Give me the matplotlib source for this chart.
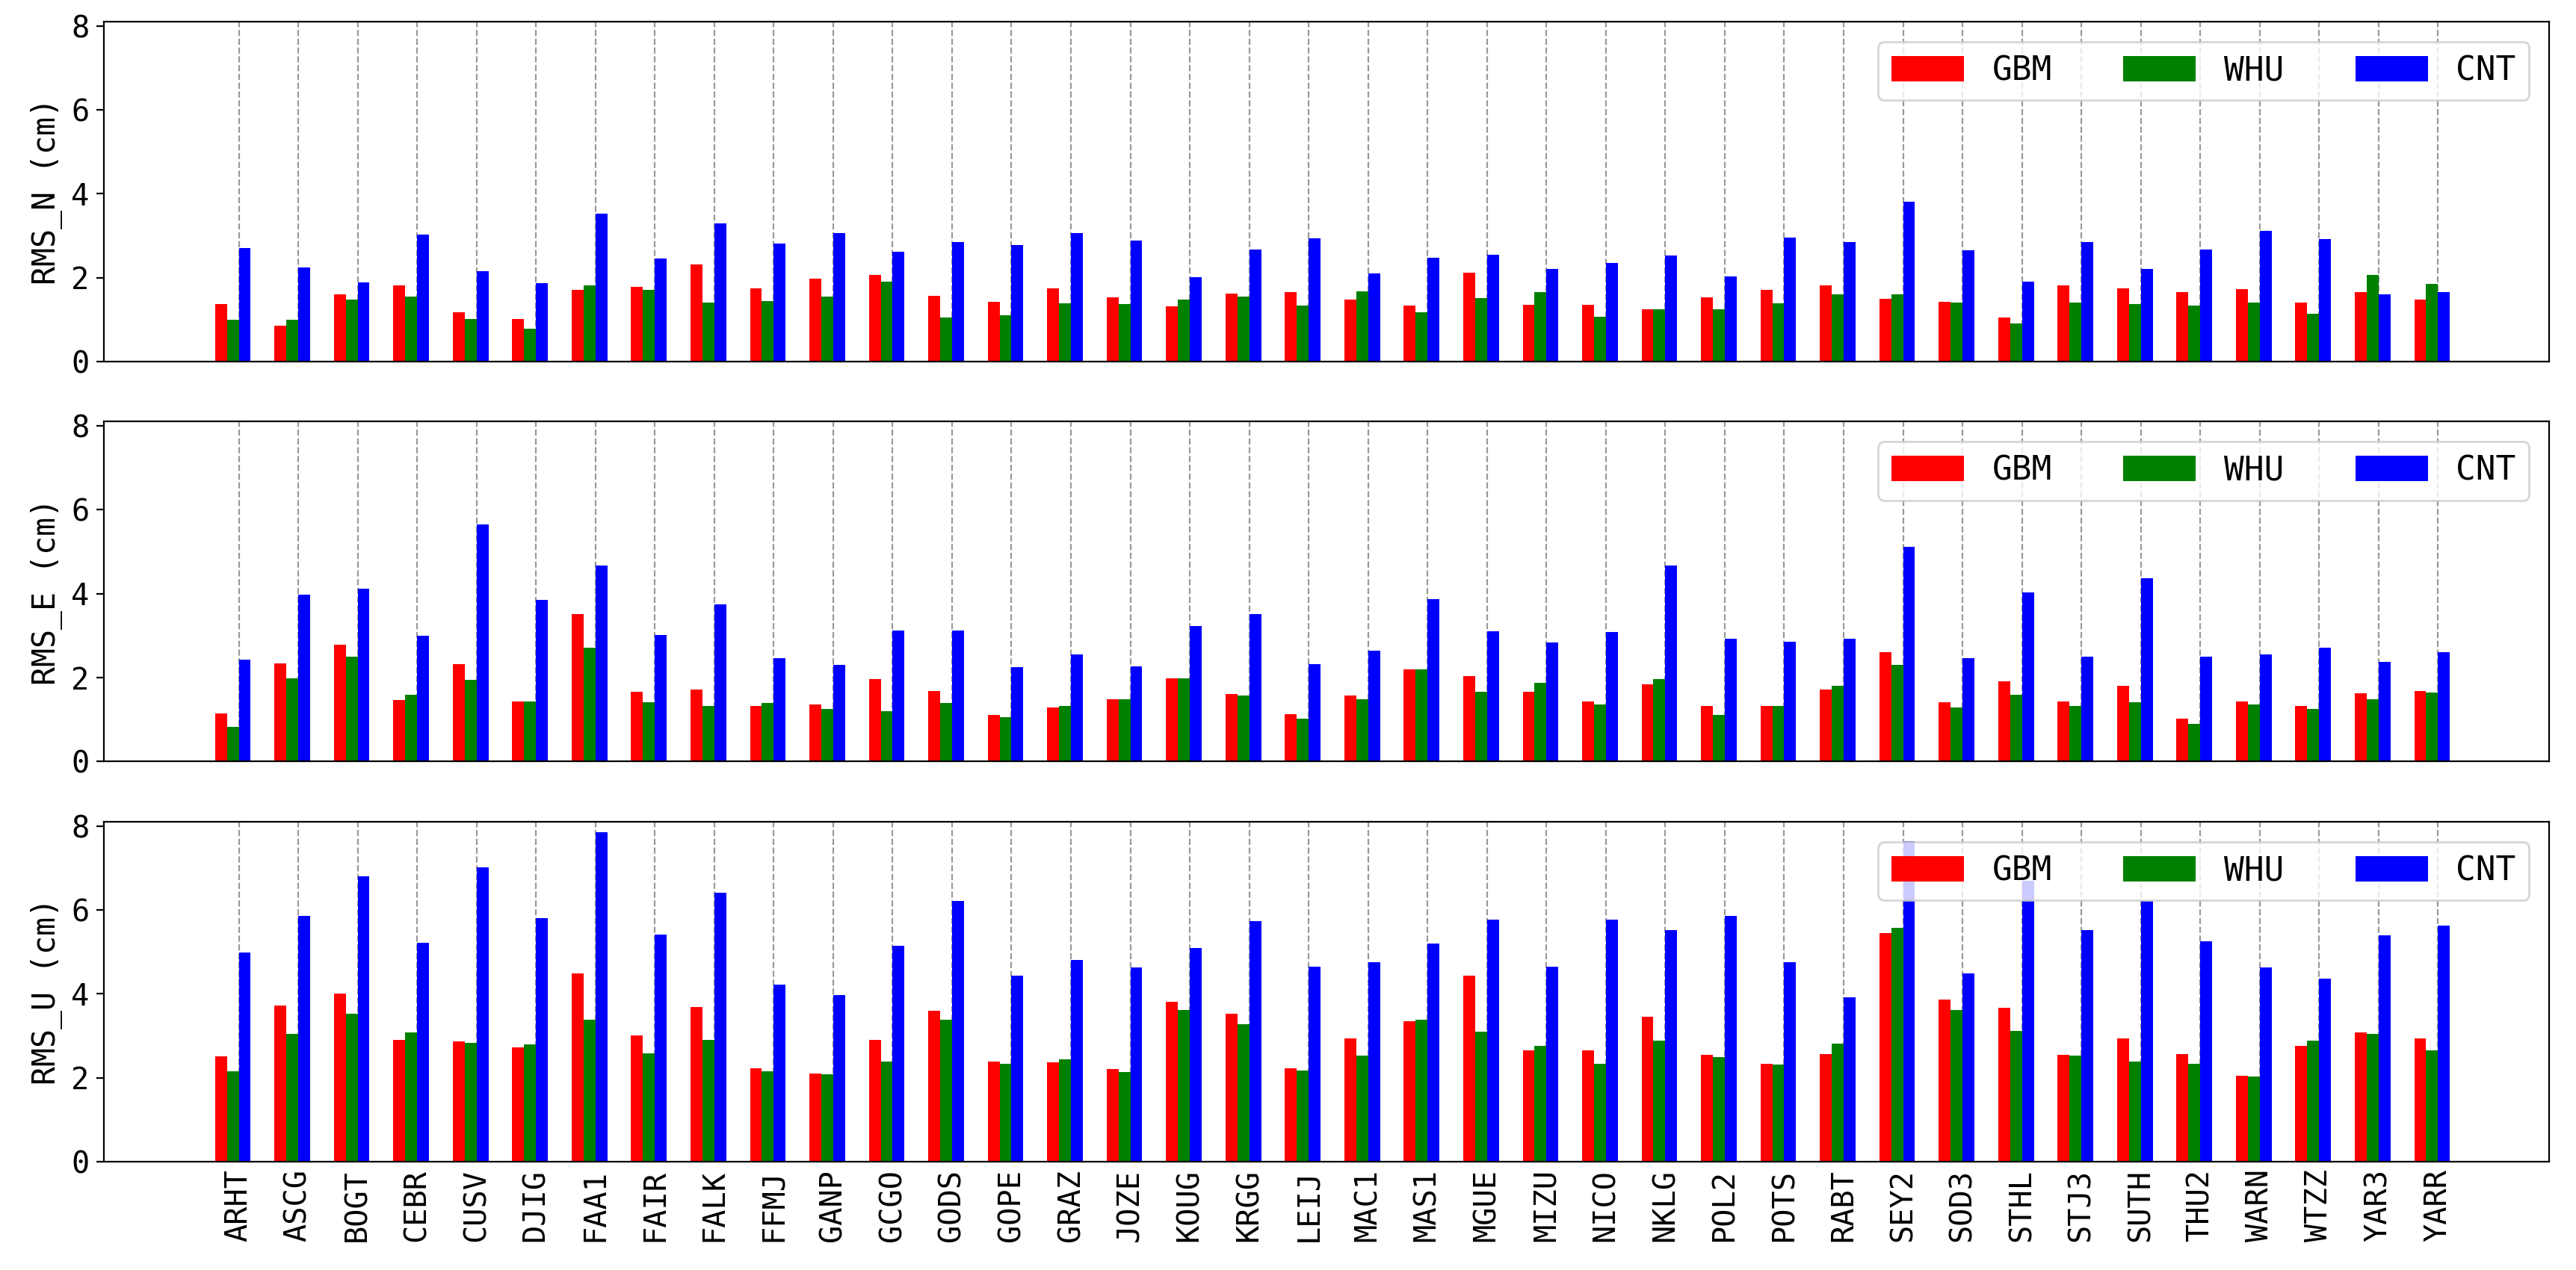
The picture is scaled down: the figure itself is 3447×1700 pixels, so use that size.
import numpy as np
import matplotlib
matplotlib.use('Agg')
import matplotlib.pyplot as plt

plt.rcParams['font.family'] = ['DejaVu Sans Mono']

STATIONS = ['ARHT', 'ASCG', 'BOGT', 'CEBR', 'CUSV', 'DJIG', 'FAA1', 'FAIR', 'FALK', 'FFMJ',
            'GANP', 'GCGO', 'GODS', 'GOPE', 'GRAZ', 'JOZE', 'KOUG', 'KRGG', 'LEIJ', 'MAC1',
            'MAS1', 'MGUE', 'MIZU', 'NICO', 'NKLG', 'POL2', 'POTS', 'RABT', 'SEY2', 'SOD3',
            'STHL', 'STJ3', 'SUTH', 'THU2', 'WARN', 'WTZZ', 'YAR3', 'YARR']

# RMS (cm) per station
GBM_N = [1.37, 0.86, 1.60, 1.81, 1.17, 1.02, 1.71, 1.78, 2.32, 1.75, 1.97, 2.07, 1.57,
         1.42, 1.75, 1.53, 1.32, 1.61, 1.65, 1.47, 1.34, 2.11, 1.35, 1.36, 1.24, 1.53,
         1.70, 1.81, 1.50, 1.42, 1.04, 1.82, 1.74, 1.65, 1.72, 1.41, 1.65, 1.47]
WHU_N = [0.99, 0.99, 1.48, 1.55, 1.02, 0.78, 1.81, 1.71, 1.41, 1.44, 1.55, 1.91, 1.05,
         1.11, 1.39, 1.37, 1.47, 1.54, 1.34, 1.68, 1.17, 1.52, 1.65, 1.06, 1.25, 1.24,
         1.39, 1.60, 1.60, 1.40, 0.90, 1.41, 1.37, 1.33, 1.41, 1.14, 2.06, 1.85]
CNT_N = [2.71, 2.25, 1.88, 3.02, 2.15, 1.86, 3.53, 2.46, 3.30, 2.81, 3.06, 2.61, 2.84,
         2.78, 3.06, 2.88, 2.01, 2.66, 2.94, 2.10, 2.47, 2.55, 2.20, 2.35, 2.52, 2.03,
         2.95, 2.84, 3.80, 2.65, 1.90, 2.85, 2.21, 2.67, 3.12, 2.91, 1.60, 1.65]

GBM_E = [1.15, 2.34, 2.79, 1.47, 2.33, 1.44, 3.51, 1.67, 1.72, 1.33, 1.36, 1.96, 1.69,
         1.12, 1.29, 1.49, 1.98, 1.61, 1.13, 1.57, 2.19, 2.04, 1.67, 1.44, 1.85, 1.33,
         1.33, 1.72, 2.61, 1.42, 1.91, 1.44, 1.80, 1.02, 1.44, 1.33, 1.62, 1.69]
WHU_E = [0.83, 1.98, 2.50, 1.60, 1.94, 1.44, 2.71, 1.41, 1.33, 1.39, 1.26, 1.20, 1.39,
         1.05, 1.33, 1.49, 1.98, 1.57, 1.02, 1.49, 2.19, 1.67, 1.88, 1.36, 1.96, 1.11,
         1.33, 1.80, 2.30, 1.29, 1.60, 1.33, 1.41, 0.90, 1.36, 1.26, 1.49, 1.65]
CNT_E = [2.43, 3.97, 4.12, 3.00, 5.66, 3.85, 4.68, 3.02, 3.75, 2.47, 2.30, 3.13, 3.13,
         2.25, 2.56, 2.27, 3.23, 3.51, 2.33, 2.64, 3.87, 3.10, 2.84, 3.08, 4.68, 2.92,
         2.86, 2.92, 5.11, 2.46, 4.03, 2.50, 4.37, 2.50, 2.55, 2.71, 2.37, 2.61]

GBM_U = [2.51, 3.72, 4.00, 2.90, 2.87, 2.72, 4.48, 3.01, 3.68, 2.23, 2.10, 2.90, 3.59,
         2.39, 2.37, 2.20, 3.81, 3.53, 2.23, 2.94, 3.35, 4.43, 2.65, 2.65, 3.45, 2.55,
         2.34, 2.57, 5.45, 3.87, 3.66, 2.55, 2.93, 2.57, 2.05, 2.76, 3.08, 2.93]
WHU_U = [2.16, 3.04, 3.52, 3.08, 2.83, 2.80, 3.38, 2.59, 2.90, 2.16, 2.08, 2.39, 3.38,
         2.34, 2.44, 2.13, 3.62, 3.27, 2.18, 2.52, 3.38, 3.09, 2.76, 2.34, 2.88, 2.49,
         2.31, 2.81, 5.58, 3.62, 3.12, 2.52, 2.39, 2.34, 2.03, 2.88, 3.04, 2.65]
CNT_U = [4.98, 5.86, 6.80, 5.22, 7.01, 5.80, 7.85, 5.42, 6.40, 4.21, 3.97, 5.14, 6.22,
         4.43, 4.80, 4.62, 5.09, 5.74, 4.64, 4.75, 5.19, 5.76, 4.64, 5.76, 5.52, 5.86,
         4.75, 3.92, 7.64, 4.49, 6.69, 5.51, 6.22, 5.26, 4.62, 4.36, 5.40, 5.63]

YLABELS = ['RMS_N (cm)', 'RMS_E (cm)', 'RMS_U (cm)']
PANELS = [(GBM_N, WHU_N, CNT_N), (GBM_E, WHU_E, CNT_E), (GBM_U, WHU_U, CNT_U)]
NAMES = ['GBM', 'WHU', 'CNT']
COLS = ['red', 'green', 'blue']
W = 0.2

x = np.arange(len(STATIONS))
fig, axes = plt.subplots(3, 1, figsize=(17.24, 8.5), dpi=200, sharex=True)
fig.subplots_adjust(left=0.0403, right=0.9893, top=0.983, bottom=0.0853, hspace=0.177)

for ax, vals, ylab in zip(axes, PANELS, YLABELS):
    for k, (v, name, c) in enumerate(zip(vals, NAMES, COLS)):
        ax.bar(x + (k - 1.5) * W, v, width=W, color=c, label=name)
    ax.set_axisbelow(True)
    ax.grid(axis='x', linestyle='--', color='gray', lw=0.8, alpha=0.8)
    ax.set_ylim(0, 8.1)
    ax.set_yticks([0, 2, 4, 6, 8])
    ax.set_xlim(-2.27, 38.87)
    ax.set_ylabel(ylab, fontsize=15)
    ax.tick_params(axis='y', labelsize=14.5)
    ax.tick_params(axis='x', direction='in', length=4.5, labelsize=14.5)
    ax.legend(loc='upper right', ncol=3, prop={'size': 16},
              handlelength=2.18, handleheight=0.8, handletextpad=0.85,
              columnspacing=2.15, borderaxespad=0.6)

axes[-1].set_xticks(x)
axes[-1].set_xticklabels(STATIONS, rotation=90)

plt.savefig('out.png', dpi=200)
plt.close(fig)
